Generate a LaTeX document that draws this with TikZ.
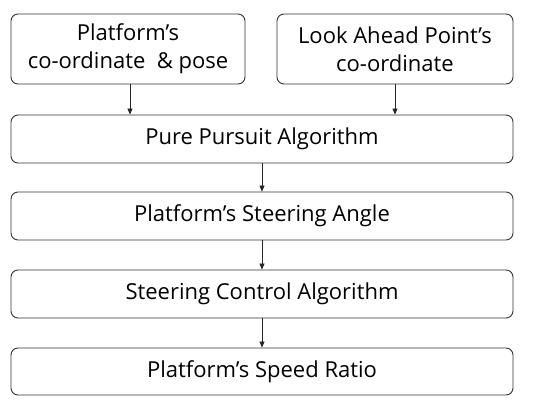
\documentclass[tikz,border=0pt]{standalone}
\usepackage{fontspec}
\setmainfont{Open Sans}
\usetikzlibrary{arrows.meta}
\begin{document}
\begin{tikzpicture}[x=1pt,y=-1pt,
  box/.style={draw=black!80, line width=0.9pt, rounded corners=7pt, inner sep=0pt, font=\fontsize{22}{28}\selectfont, text=black, align=center},
  arr/.style={draw=black!85, line width=0.8pt, -{Triangle[length=6pt,width=5pt]}}]
\useasboundingbox (0,0) rectangle (550,407);
\node[box, minimum width=234pt, minimum height=70pt] (a) at (128,49) {Platform’s\\co-ordinate~ \& pose};
\node[box, minimum width=236pt, minimum height=70pt] (b) at (395,49) {Look Ahead Point’s\\co-ordinate};
\node[box, minimum width=502pt, minimum height=48pt] (c) at (262,139) {Pure Pursuit Algorithm};
\node[box, minimum width=502pt, minimum height=48pt] (d) at (262,216) {Platform’s Steering Angle};
\node[box, minimum width=502pt, minimum height=48pt] (e) at (262,294) {Steering Control Algorithm};
\node[box, minimum width=502pt, minimum height=47pt] (f) at (262,371.5) {Platform’s Speed Ratio};
\draw[arr] (a.south -| 130,0) -- (c.north -| 130,0);
\draw[arr] (b.south -| 395,0) -- (c.north -| 395,0);
\draw[arr] (c) -- (d);
\draw[arr] (d) -- (e);
\draw[arr] (e) -- (f);
\end{tikzpicture}
\end{document}
